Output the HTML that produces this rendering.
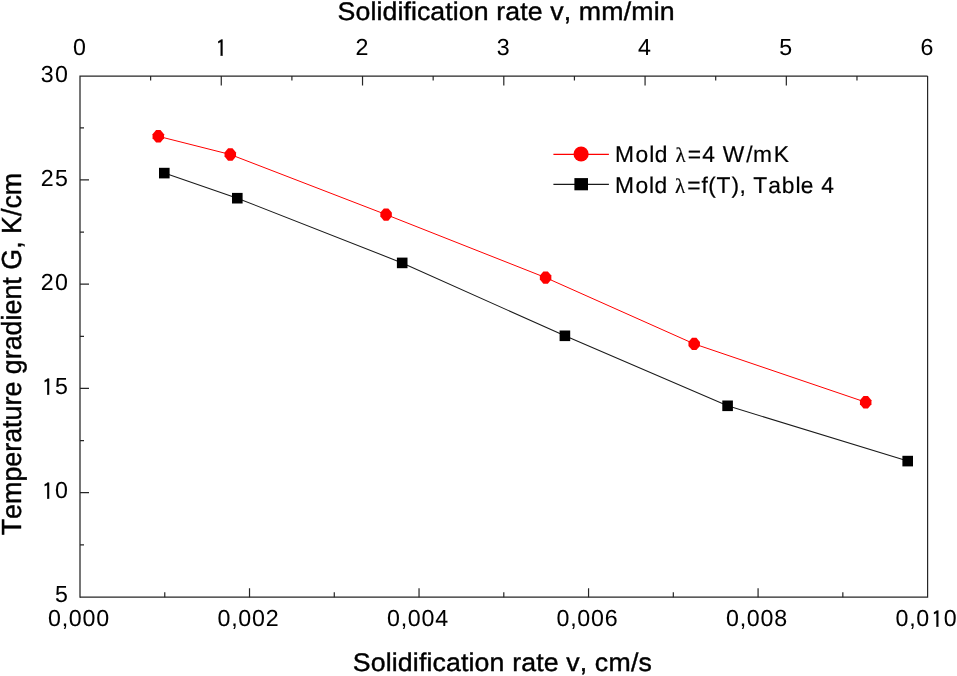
<!DOCTYPE html>
<html lang="en"><head><meta charset="utf-8"><title>Temperature gradient vs solidification rate</title>
<style>html,body{margin:0;padding:0;background:#fff;}body{width:957px;height:676px;overflow:hidden;}svg{display:block;}text{font-family:"Liberation Sans",Arial,Helvetica,sans-serif;fill:#000;stroke:#000;white-space:pre;text-rendering:geometricPrecision;}.sym{font-family:"Liberation Serif","DejaVu Serif",serif;}.one{font-family:"IPAGothic","Liberation Sans",sans-serif;}</style>
</head><body>
<svg width="957" height="676" viewBox="0 0 957 676">
<rect x="0" y="0" width="957" height="676" fill="#ffffff"/>
<g fill="none" stroke="#262626" stroke-width="1.25" stroke-linecap="butt">
<path d="M80.0 597.8000000000001 V76.0 H927.6"/>
<path d="M927.6 76.0 V597.2 H80.0" stroke-width="1.2"/>
<path d="M150.63 76.0 v4.5 M221.27 76.0 v9.5 M291.90 76.0 v4.5 M362.53 76.0 v9.5 M433.17 76.0 v4.5 M503.80 76.0 v9.5 M574.43 76.0 v4.5 M645.07 76.0 v9.5 M715.70 76.0 v4.5 M786.33 76.0 v9.5 M856.97 76.0 v4.5 M164.76 597.2 v-5.0 M249.52 597.2 v-9.0 M334.28 597.2 v-5.0 M419.04 597.2 v-9.0 M503.80 597.2 v-5.0 M588.56 597.2 v-9.0 M673.32 597.2 v-5.0 M758.08 597.2 v-9.0 M842.84 597.2 v-5.0 M80.0 544.78 h4.0 M80.0 492.66 h9.0 M80.0 440.54 h4.0 M80.0 388.42 h9.0 M80.0 336.30 h4.0 M80.0 284.18 h9.0 M80.0 232.06 h4.0 M80.0 179.94 h9.0 M80.0 127.82 h4.0" stroke-width="1.2"/>
</g>
<polyline points="164.3,173.1 237.3,198.2 402.2,262.9 564.9,335.8 727.6,405.8 907.7,461.1" fill="none" stroke="#1a1a1a" stroke-width="1.05"/>
<polyline points="158.3,136.3 230.3,154.5 386.1,214.6 545.6,277.6 694.2,343.9 865.7,402.2" fill="none" stroke="#ff0000" stroke-width="1.0"/>
<rect x="159.0" y="167.8" width="10.6" height="10.6" fill="#000"/>
<rect x="232.0" y="192.9" width="10.6" height="10.6" fill="#000"/>
<rect x="396.9" y="257.6" width="10.6" height="10.6" fill="#000"/>
<rect x="559.6" y="330.5" width="10.6" height="10.6" fill="#000"/>
<rect x="722.3" y="400.5" width="10.6" height="10.6" fill="#000"/>
<rect x="902.4" y="455.8" width="10.6" height="10.6" fill="#000"/>
<polygon points="156.10,130.10 160.50,130.10 164.05,134.30 164.05,138.30 160.50,142.50 156.10,142.50 152.55,138.30 152.55,134.30" fill="#ff0000"/>
<polygon points="228.10,148.30 232.50,148.30 236.05,152.50 236.05,156.50 232.50,160.70 228.10,160.70 224.55,156.50 224.55,152.50" fill="#ff0000"/>
<polygon points="383.90,208.40 388.30,208.40 391.85,212.60 391.85,216.60 388.30,220.80 383.90,220.80 380.35,216.60 380.35,212.60" fill="#ff0000"/>
<polygon points="543.40,271.40 547.80,271.40 551.35,275.60 551.35,279.60 547.80,283.80 543.40,283.80 539.85,279.60 539.85,275.60" fill="#ff0000"/>
<polygon points="692.00,337.70 696.40,337.70 699.95,341.90 699.95,345.90 696.40,350.10 692.00,350.10 688.45,345.90 688.45,341.90" fill="#ff0000"/>
<polygon points="863.50,396.00 867.90,396.00 871.45,400.20 871.45,404.20 867.90,408.40 863.50,408.40 859.95,404.20 859.95,400.20" fill="#ff0000"/>
<line x1="553.4" y1="154.4" x2="608.9" y2="154.4" stroke="#ff0000" stroke-width="1.2"/>
<circle cx="581.1" cy="154" r="7.6" fill="#ff0000"/>
<line x1="553.4" y1="184.3" x2="608.9" y2="184.3" stroke="#1a1a1a" stroke-width="1.2"/>
<rect x="574.4" y="178.1" width="13.6" height="12.2" fill="#000"/>
<text transform="translate(615.00 162.00) scale(0.06250 0.06250)" font-size="364.8" stroke-width="3.2" x="0.0 329.5 549.4 637.3 857.3 967.2 1164.9 1395.9 1615.9 1725.8 2099.1 2209.0 2538.5" y="0">Mold <tspan class="sym" font-size="335.6">λ</tspan>=4 W/mK</text>
<text transform="translate(615.00 193.00) scale(0.06250 0.06250)" font-size="364.8" stroke-width="3.2" x="0.0 326.5 544.6 631.6 849.7 958.6 1154.6 1383.5 1492.4 1623.0 1862.4 1992.9 2101.9 2210.8 2450.2 2668.2 2886.3 2973.3 3191.4 3300.3" y="0">Mold <tspan class="sym" font-size="335.6">λ</tspan>=f(T), Table 4</text>
<text transform="translate(337.40 20.00) scale(0.06500 0.06250)" font-size="408.0" stroke-width="6.4" x="0.0 276.9 507.7 599.9 692.1 923.0 1015.2 1130.5 1222.8 1430.3 1661.1 1776.5 1868.7 2099.5 2330.4 2445.7 2583.9 2814.8 2930.1 3161.0 3276.3 3483.8 3599.1 3714.5 4060.2 4406.0 4521.3 4867.1 4959.3" y="0">Solidification rate v, mm/min</text>
<text transform="translate(352.70 671.00) scale(0.06500 0.06250)" font-size="408.0" stroke-width="6.4" x="0.0 277.7 509.2 601.7 694.2 925.7 1018.2 1133.9 1226.4 1434.5 1666.1 1781.7 1874.2 2105.8 2337.3 2453.0 2591.6 2823.1 2938.8 3170.3 3286.0 3494.1 3609.8 3725.5 3933.6 4280.4 4396.1" y="0">Solidification rate v, cm/s</text>
<text transform="translate(21.00 535.30) rotate(-90) scale(0.06438 0.06688)" font-size="416.0" stroke-width="6.4" x="0.0 254.7 486.6 833.9 1065.7 1297.6 1436.5 1668.4 1784.2 2016.1 2154.9 2386.8 2502.6 2734.5 2873.4 3105.2 3337.1 3429.8 3661.6 3893.5 4009.4 4125.2 4449.5 4565.3 4681.2 4959.3 5075.1 5283.6" y="0">Temperature gradient G, K/cm</text>
<text transform="translate(72.96 55.00) scale(0.06250 0.06250)" font-size="371.2" stroke-width="0.8" x="0.0" y="0">0</text>
<text transform="translate(214.23 55.00) scale(0.06250 0.06250)" font-size="371.2" stroke-width="0.8" x="18.4" y="25.2"><tspan class="one" font-size="371.2" stroke-width="3.5">1</tspan></text>
<text transform="translate(355.50 55.00) scale(0.06250 0.06250)" font-size="371.2" stroke-width="0.8" x="0.0" y="0">2</text>
<text transform="translate(496.76 55.00) scale(0.06250 0.06250)" font-size="371.2" stroke-width="0.8" x="0.0" y="0">3</text>
<text transform="translate(638.03 55.00) scale(0.06250 0.06250)" font-size="371.2" stroke-width="0.8" x="0.0" y="0">4</text>
<text transform="translate(779.30 55.00) scale(0.06250 0.06250)" font-size="371.2" stroke-width="0.8" x="0.0" y="0">5</text>
<text transform="translate(920.56 55.00) scale(0.06250 0.06250)" font-size="371.2" stroke-width="0.8" x="0.0" y="0">6</text>
<text transform="translate(54.93 602.00) scale(0.06250 0.06250)" font-size="371.2" stroke-width="0.8" x="0.0" y="0">5</text>
<text transform="translate(40.86 498.00) scale(0.06250 0.06250)" font-size="371.2" stroke-width="0.8" x="18.4 225.1" y="25.2 0.0"><tspan class="one" font-size="371.2" stroke-width="3.5">1</tspan>0</text>
<text transform="translate(40.86 394.00) scale(0.06250 0.06250)" font-size="371.2" stroke-width="0.8" x="18.4 225.1" y="25.2 0.0"><tspan class="one" font-size="371.2" stroke-width="3.5">1</tspan>5</text>
<text transform="translate(40.86 290.00) scale(0.06250 0.06250)" font-size="371.2" stroke-width="0.8" x="0.0 225.1" y="0">20</text>
<text transform="translate(40.86 186.00) scale(0.06250 0.06250)" font-size="371.2" stroke-width="0.8" x="0.0 225.1" y="0">25</text>
<text transform="translate(40.86 82.00) scale(0.06250 0.06250)" font-size="371.2" stroke-width="0.8" x="0.0 225.1" y="0">30</text>
<text transform="translate(47.97 626.00) scale(0.06250 0.06250)" font-size="371.2" stroke-width="0.8" x="0.0 220.7 330.9 551.6 772.3" y="0">0,000</text>
<text transform="translate(217.49 626.00) scale(0.06250 0.06250)" font-size="371.2" stroke-width="0.8" x="0.0 220.7 330.9 551.6 772.3" y="0">0,002</text>
<text transform="translate(387.01 626.00) scale(0.06250 0.06250)" font-size="371.2" stroke-width="0.8" x="0.0 220.7 330.9 551.6 772.3" y="0">0,004</text>
<text transform="translate(556.53 626.00) scale(0.06250 0.06250)" font-size="371.2" stroke-width="0.8" x="0.0 220.7 330.9 551.6 772.3" y="0">0,006</text>
<text transform="translate(726.05 626.00) scale(0.06250 0.06250)" font-size="371.2" stroke-width="0.8" x="0.0 220.7 330.9 551.6 772.3" y="0">0,008</text>
<text transform="translate(895.57 626.00) scale(0.06250 0.06250)" font-size="371.2" stroke-width="0.8" x="0.0 220.7 330.9 570.0 772.3" y="0.0 0.0 0.0 25.2 0.0">0,0<tspan class="one" font-size="371.2" stroke-width="3.5">1</tspan>0</text>
</svg>
</body></html>
